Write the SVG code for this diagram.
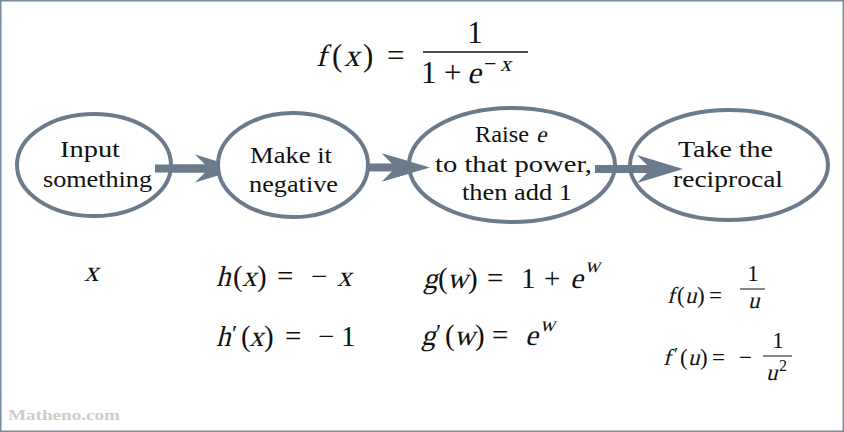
<svg xmlns="http://www.w3.org/2000/svg" width="844" height="432" viewBox="0 0 844 432">
<style>
.node ellipse{fill:#ffffff;stroke:#6b7b8b;stroke-width:4}
.node text{font-family:'Liberation Serif',serif;font-size:23px;fill:#111}
.arrow{fill:#6b7b8b}
.m text{font-family:'Liberation Serif',serif;fill:#111}
.wm{font-family:'Liberation Serif',serif;font-weight:bold;font-size:15px;fill:#cccccc}
</style>
<rect x="0.75" y="0.75" width="842.5" height="430.5" fill="#ffffff" stroke="#7b8a98" stroke-width="1.5"/>

<g id="formula-top" class="m" font-size="31">
<text y="66"><tspan x="332">(</tspan><tspan x="363">)</tspan><tspan x="387">=</tspan></text>
<text transform="translate(316,66) skewX(-14)">f</text>
<text transform="translate(344,66) skewX(-14)">x</text>
<text x="475" y="43" text-anchor="middle">1</text>
<line x1="423" y1="52" x2="528" y2="52" stroke="#111" stroke-width="1.3"/>
<text y="83"><tspan x="421">1</tspan><tspan x="444">+</tspan></text>
<text transform="translate(467,83) skewX(-14)">e</text>
<text x="484" y="71" font-size="22">−</text>
<text transform="translate(500,71) skewX(-14)" font-size="22">x</text>
</g>

<g id="connectors">
<path class="arrow" d="M155,164.5 H205 L195,154.5 L241,168.5 L195,182.5 L205,172.5 H155 Z"/>
<path class="arrow" d="M343,163.5 H392 L382,153.5 L430,167.5 L382,181.5 L392,171.5 H343 Z"/>
<path class="arrow" d="M595,165 H647 L637,155 L683,169 L637,183 L647,173 H595 Z"/>
</g>

<g id="node-input" class="node">
<ellipse cx="94" cy="165" rx="77" ry="51"/>
<text x="60" y="157" textLength="60" lengthAdjust="spacingAndGlyphs">Input</text>
<text x="43" y="187" textLength="109" lengthAdjust="spacingAndGlyphs">something</text>
</g>
<g id="node-negative" class="node">
<ellipse cx="293" cy="165" rx="75" ry="52"/>
<text x="250" y="163" textLength="82" lengthAdjust="spacingAndGlyphs">Make it</text>
<text x="249" y="192" textLength="89" lengthAdjust="spacingAndGlyphs">negative</text>
</g>
<g id="node-raise" class="node">
<ellipse cx="512" cy="165" rx="103" ry="57"/>
<text x="475" y="142" textLength="54" lengthAdjust="spacingAndGlyphs">Raise</text>
<text transform="translate(536,142) skewX(-14)">e</text>
<text x="435" y="172" textLength="157" lengthAdjust="spacingAndGlyphs">to that power,</text>
<text x="462" y="200" textLength="110" lengthAdjust="spacingAndGlyphs">then add 1</text>
</g>
<g id="node-reciprocal" class="node">
<ellipse cx="729" cy="165" rx="99" ry="55"/>
<text x="678" y="157" textLength="95" lengthAdjust="spacingAndGlyphs">Take the</text>
<text x="673" y="187" textLength="110" lengthAdjust="spacingAndGlyphs">reciprocal</text>
</g>
<g id="arrow-overlays">
<path class="arrow" d="M637,155 L683,169 L637,183 L647,173 L647,165 Z"/>
<path class="arrow" d="M382,153.5 L430,167.5 L382,181.5 L392,171.5 L392,163.5 Z"/>
<path class="arrow" d="M155,164.5 H205 V172.5 H155 Z"/>
<path class="arrow" d="M595,165 H647 V173 H595 Z"/>
</g>

<g id="math-x" class="m" font-size="29">
<text transform="translate(84,281) skewX(-14)">x</text>
</g>
<g id="math-h" class="m" font-size="29">
<text y="286"><tspan x="233">(</tspan><tspan x="257">)</tspan><tspan x="277">=</tspan><tspan x="311">−</tspan></text>
<text transform="translate(216,286) skewX(-14)">h</text>
<text transform="translate(242,286) skewX(-14)">x</text>
<text transform="translate(337,286) skewX(-14)">x</text>
<text x="232" y="341" font-size="24">′</text>
<text y="346"><tspan x="241">(</tspan><tspan x="264">)</tspan><tspan x="285">=</tspan><tspan x="318">−</tspan><tspan x="341">1</tspan></text>
<text transform="translate(216,346) skewX(-14)">h</text>
<text transform="translate(249,346) skewX(-14)">x</text>
</g>
<g id="math-g" class="m" font-size="29">
<text y="288"><tspan x="438">(</tspan><tspan x="468">)</tspan><tspan x="487">=</tspan><tspan x="521">1</tspan><tspan x="544">+</tspan></text>
<text transform="translate(423,288) skewX(-14)">g</text>
<text transform="translate(447,288) skewX(-14)">w</text>
<text transform="translate(570,288) skewX(-14)">e</text>
<text transform="translate(585,272) skewX(-14)" font-size="21">w</text>
<text x="436" y="340" font-size="24">′</text>
<text y="345"><tspan x="445">(</tspan><tspan x="475">)</tspan><tspan x="492">=</tspan></text>
<text transform="translate(421,345) skewX(-14)">g</text>
<text transform="translate(454,345) skewX(-14)">w</text>
<text transform="translate(525,345) skewX(-14)">e</text>
<text transform="translate(540,331) skewX(-14)" font-size="21">w</text>
</g>
<g id="math-f" class="m" font-size="23">
<text y="303"><tspan x="677">(</tspan><tspan x="697">)</tspan><tspan x="709">=</tspan></text>
<text transform="translate(667,303) skewX(-14)">f</text>
<text transform="translate(685,303) skewX(-14)">u</text>
<text x="753" y="281" text-anchor="middle">1</text>
<line x1="740" y1="289" x2="765" y2="289" stroke="#111" stroke-width="1"/>
<text transform="translate(748,308) skewX(-14)">u</text>
<text x="674" y="361" font-size="19">′</text>
<text y="365"><tspan x="680">(</tspan><tspan x="700">)</tspan><tspan x="712">=</tspan><tspan x="739">−</tspan></text>
<text transform="translate(663,365) skewX(-14)">f</text>
<text transform="translate(688,365) skewX(-14)">u</text>
<text x="778" y="348" text-anchor="middle">1</text>
<line x1="763" y1="356" x2="792" y2="356" stroke="#111" stroke-width="1"/>
<text transform="translate(766,380) skewX(-14)">u</text>
<text x="779" y="371" font-size="16">2</text>
</g>

<text class="wm" x="8" y="420" textLength="112" lengthAdjust="spacingAndGlyphs">Matheno.com</text>
</svg>
